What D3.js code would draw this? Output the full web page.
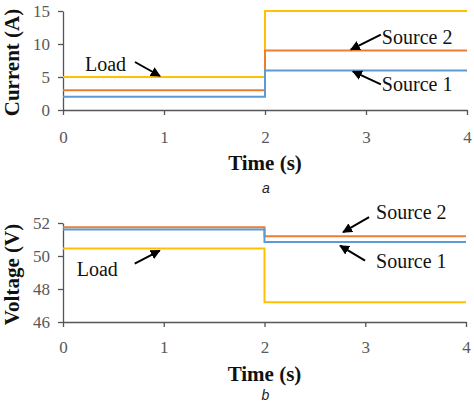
<!DOCTYPE html>
<html>
<head>
<meta charset="utf-8">
<script src="https://cdn.jsdelivr.net/npm/d3@7"></script>
<style>
  body { margin: 0; background: #fff; }
  svg { display: block; }
  .axis path, .axis line { stroke: #555; stroke-width: 1.3; }
  .axis text { font-family: "Liberation Serif", "Times New Roman", serif !important; font-size: 17px !important; fill: #595959 !important; }
  .title { font-family: "Liberation Serif", serif; font-weight: bold; font-size: 21px; fill: #111; }
  .note { font-family: "Liberation Serif", serif; font-size: 20px; fill: #111; }
  .caption { font-family: "Liberation Sans", sans-serif; font-style: italic; font-size: 14px; fill: #222; }
</style>
</head>
<body>
<div id="chart"></div>
<script>
// step data: value before / after the switch at t = 2 s
const timeTicks = [0, 1, 2, 3, 4];
const stepTimes = [0, 2, 4];

const currentTicks = [0, 5, 10, 15];
const currentSource1 = [2, 6, 6];
const currentSource2 = [3, 9, 9];
const currentLoad = [5, 15, 15];

const voltageTicks = [46, 48, 50, 52];
const voltageSource1 = [51.6, 50.85, 50.85];
const voltageSource2 = [51.75, 51.2, 51.2];
const voltageLoad = [50.45, 47.2, 47.2];

const colors = {source1: "#5b9bd5", source2: "#ed7d31", load: "#ffc000"};

let width = 474, height = 407;

let svg = d3.select("#chart")
    .append("svg")
    .attr("width", width)
    .attr("height", height);

svg.append("defs").append("marker")
    .attr("id", "head")
    .attr("viewBox", "0 0 10 10")
    .attr("refX", 9).attr("refY", 5)
    .attr("markerWidth", 5).attr("markerHeight", 5)
    .attr("orient", "auto")
    .append("path")
    .attr("d", "M0,0 L10,5 L0,10 z")
    .attr("fill", "#000");

const drawPanel = (cfg) => {
    let x = d3.scaleLinear().domain([0, 4]).range([cfg.left, cfg.right]);
    let y = d3.scaleLinear().domain(d3.extent(cfg.yTicks)).range([cfg.bottom, cfg.top]);

    let g = svg.append("g");

    g.append("g")
        .attr("class", "axis")
        .attr("transform", `translate(0,${cfg.bottom})`)
        .call(d3.axisBottom(x).tickValues(timeTicks).tickFormat(d3.format("d"))
            .tickSize(5).tickPadding(cfg.xPad).tickSizeOuter(0))
        .attr("font-family", null);

    g.append("g")
        .attr("class", "axis")
        .attr("transform", `translate(${cfg.left},0)`)
        .call(d3.axisLeft(y).tickValues(cfg.yTicks).tickFormat(d3.format("d"))
            .tickSize(5).tickPadding(8).tickSizeOuter(0))
        .attr("font-family", null);

    let line = d3.line()
        .x((d, i) => x(stepTimes[i]))
        .y(d => y(d))
        .curve(d3.curveStepAfter);

    // load drawn first, then sources on top
    cfg.series.forEach(s => {
        g.append("path")
            .datum(s.values)
            .attr("fill", "none")
            .attr("stroke", s.color)
            .attr("stroke-width", 2)
            .attr("d", line);
    });

    cfg.notes.forEach(n => {
        let tx = x(n.t), ty = y(n.v) + n.dy;
        g.append("line")
            .attr("x1", tx + n.ox).attr("y1", ty + n.oy)
            .attr("x2", tx).attr("y2", ty)
            .attr("stroke", "#000")
            .attr("stroke-width", 2)
            .attr("marker-end", "url(#head)");
        g.append("text")
            .attr("class", "note")
            .attr("x", tx + n.lx)
            .attr("y", ty + n.ly)
            .attr("dy", "0.35em")
            .text(n.text);
    });

    g.append("text")
        .attr("class", "title")
        .attr("transform", `translate(19,${(cfg.top + cfg.bottom) / 2 + 2}) rotate(-90)`)
        .attr("text-anchor", "middle")
        .text(cfg.yTitle);

    g.append("text")
        .attr("class", "title")
        .attr("x", x(2))
        .attr("y", cfg.bottom + cfg.titleOff)
        .attr("dy", "0.35em")
        .attr("text-anchor", "middle")
        .text("Time (s)");

    g.append("text")
        .attr("class", "caption")
        .attr("x", x(2) + 1)
        .attr("y", cfg.bottom + cfg.capOff)
        .attr("dy", "0.35em")
        .attr("text-anchor", "middle")
        .text(cfg.caption);
};

drawPanel({
    left: 63, right: 467, top: 11, bottom: 110,
    xPad: 16, titleOff: 53, capOff: 78,
    yTicks: currentTicks,
    yTitle: "Current (A)",
    caption: "a",
    series: [
        {values: currentLoad, color: colors.load},
        {values: currentSource2, color: colors.source2},
        {values: currentSource1, color: colors.source1}
    ],
    notes: [
        {text: "Load", t: 0.96, v: 5, dy: -1, ox: -25, oy: -14, lx: -75, ly: -12},
        {text: "Source 2", t: 2.85, v: 9, dy: -1, ox: 30, oy: -15, lx: 31, ly: -13},
        {text: "Source 1", t: 2.87, v: 6, dy: 1, ox: 28, oy: 13, lx: 29, ly: 13}
    ]
});

drawPanel({
    left: 63, right: 466, top: 223, bottom: 322,
    xPad: 14, titleOff: 52, capOff: 73,
    yTicks: voltageTicks,
    yTitle: "Voltage (V)",
    caption: "b",
    series: [
        {values: voltageLoad, color: colors.load},
        {values: voltageSource2, color: colors.source2},
        {values: voltageSource1, color: colors.source1}
    ],
    notes: [
        {text: "Load", t: 0.96, v: 50.45, dy: 2, ox: -25, oy: 13, lx: -83, ly: 18},
        {text: "Source 2", t: 2.78, v: 51.2, dy: -4, ox: 26, oy: -15, lx: 33, ly: -20},
        {text: "Source 1", t: 2.75, v: 50.87, dy: 4, ox: 25, oy: 15, lx: 36, ly: 15}
    ]
});
</script>
</body>
</html>
